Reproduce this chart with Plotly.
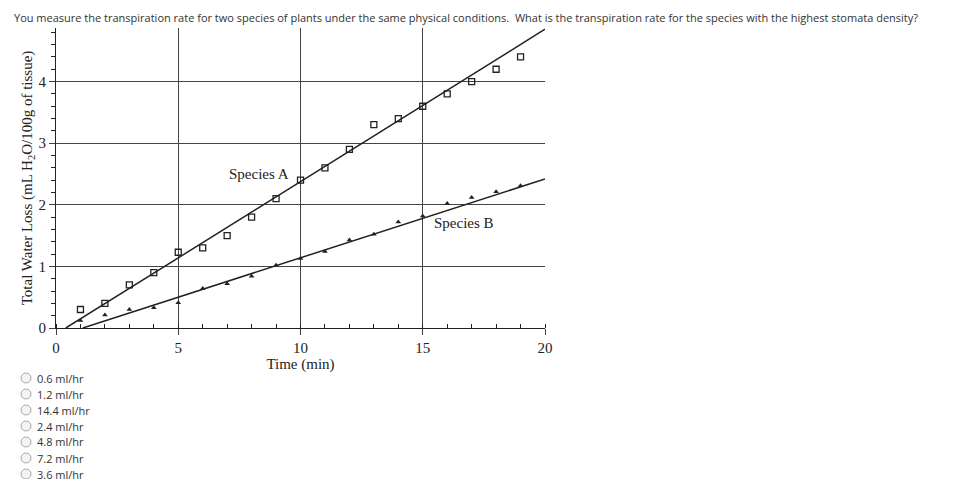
import plotly.graph_objects as go

t = list(range(1, 20))
species_a = [0.3,0.4,0.7,0.9,1.23,1.3,1.5,1.8,2.1,2.4,2.6,2.9,3.3,3.4,3.6,3.8,4.0,4.2,4.4]
species_b = [0.12,0.21,0.3,0.33,0.41,0.64,0.72,0.84,1.02,1.13,1.24,1.43,1.52,1.72,1.82,2.02,2.12,2.21,2.31]
fit_a_x = [0.4, 20]; fit_a_y = [0, 4.85]
fit_b_x = [1.1, 20]; fit_b_y = [0, 2.42]
options = ["0.6 ml/hr","1.2 ml/hr","14.4 ml/hr","2.4 ml/hr","4.8 ml/hr","7.2 ml/hr","3.6 ml/hr"]
question = "You measure the transpiration rate for two species of plants under the same physical conditions.  What is the transpiration rate for the species with the highest stomata density?"

W, H = 973, 479
L, R, T, B = 48, 436, 20, 159
fig = go.Figure()
fig.add_trace(go.Scatter(x=fit_a_x, y=fit_a_y, mode="lines", line=dict(color="#222", width=1.5)))
fig.add_trace(go.Scatter(x=fit_b_x, y=fit_b_y, mode="lines", line=dict(color="#222", width=1.5)))
fig.add_trace(go.Scatter(x=t, y=species_a, mode="markers",
    marker=dict(symbol="square-open", size=6, color="#222", line=dict(width=1.3))))
fig.add_trace(go.Scatter(x=t, y=species_b, mode="markers",
    marker=dict(symbol="triangle-up", size=5, color="#222")))

serif = dict(family="Liberation Serif", size=15, color="#222")
fig.add_annotation(x=8.3, y=2.5, text="Species A", showarrow=False, font=serif)
fig.add_annotation(x=16.7, y=1.7, text="Species B", showarrow=False, font=serif)
pw, ph = W - L - R, H - T - B
fig.add_annotation(xref="paper", yref="paper", x=(4 - L)/pw, y=1 + 11/ph,
    text=question, showarrow=False, xanchor="left", yanchor="middle",
    font=dict(family="Open Sans", size=11, color="#333"))

for i, o in enumerate(options):
    yp = 370 + 16*i
    fig.add_annotation(xref="paper", yref="paper", x=(27-L)/pw, y=1 - (yp - T)/ph, text=o,
        showarrow=False, xanchor="left", yanchor="middle",
        font=dict(family="Open Sans", size=11, color="#333"))
    r = 5
    fig.add_shape(type="circle", xref="paper", yref="paper",
        x0=(18-r-L)/pw, x1=(18+r-L)/pw,
        y0=1-(yp+r-T)/ph, y1=1-(yp-r-T)/ph,
        line=dict(color="#aaa", width=1), fillcolor="#f4f4f4")

fig.update_xaxes(range=[0, 20], tickvals=[0,5,10,15,20], showgrid=True, gridcolor="#444", gridwidth=1,
    showline=True, linecolor="#222", ticks="outside", ticklen=6, automargin=False,
    minor=dict(dtick=1, ticks="inside", ticklen=4, tickcolor="#222", showgrid=False),
    title=dict(text="Time (min)", font=serif, standoff=2), tickfont=serif, zeroline=False)
fig.update_yaxes(range=[0, 4.87], tickvals=[0,1,2,3,4], showgrid=True, gridcolor="#444", gridwidth=1,
    showline=True, linecolor="#222", ticks="outside", ticklen=6, automargin=False,
    minor=dict(dtick=0.2, ticks="outside", ticklen=4, tickcolor="#222", showgrid=False),
    title=dict(text="Total Water Loss (mL H<sub>2</sub>O/100g of tissue)", font=serif, standoff=2),
    tickfont=serif, zeroline=False)
fig.update_layout(width=W, height=H, margin=dict(l=L, r=R, t=T, b=B, autoexpand=False), showlegend=False,
    plot_bgcolor="white", paper_bgcolor="white")
fig.write_html("out.html")
